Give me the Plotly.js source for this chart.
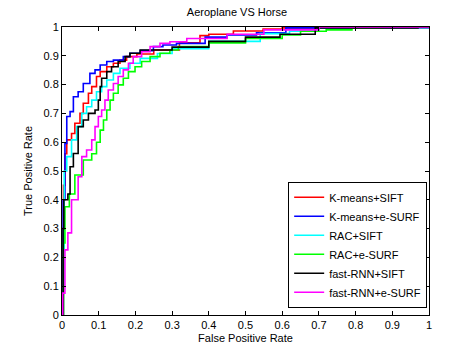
<!DOCTYPE html>
<html><head><meta charset="utf-8">
<script src="https://cdn.plot.ly/plotly-3.0.1.min.js"></script>
<style>html,body{margin:0;padding:0;background:#fff}#chart{width:474px;height:354px}</style>
</head><body><div id="chart"></div>
<script>
const seriesNames = ["K-means+SIFT","K-means+e-SURF","RAC+SIFT","RAC+e-SURF","fast-RNN+SIFT","fast-RNN+e-SURF"];
const seriesColors = ["#ff0000","#0000ff","#00ffff","#00ff00","#000000","#ff00ff"];

const kmSiftX = [0,0.004,0.008,0.013,0.026,0.035,0.049,0.058,0.072,0.081,0.094,0.104,0.122,0.14,0.158,0.176,0.204,0.25,0.32,0.376,0.40,0.467,0.548,0.60,1];
const kmSiftY = [0,0.45,0.56,0.608,0.63,0.666,0.70,0.735,0.77,0.793,0.828,0.845,0.862,0.874,0.885,0.897,0.906,0.92,0.945,0.97,0.975,0.986,0.993,0.997,1];

const kmSurfX = [0,0.003,0.008,0.013,0.022,0.031,0.044,0.058,0.076,0.09,0.104,0.122,0.14,0.167,0.185,0.213,0.249,0.275,0.312,0.39,0.45,0.53,0.61,0.78,1];
const kmSurfY = [0,0.40,0.596,0.689,0.706,0.758,0.775,0.804,0.839,0.851,0.868,0.88,0.885,0.897,0.909,0.918,0.932,0.9375,0.943,0.965,0.972,0.98,0.997,0.998,1];

const racSiftX = [0,0.004,0.006,0.013,0.026,0.04,0.054,0.067,0.081,0.094,0.108,0.122,0.14,0.158,0.185,0.213,0.26,0.30,0.40,0.54,0.62,0.70,1];
const racSiftY = [0,0.10,0.50,0.55,0.608,0.654,0.70,0.723,0.746,0.775,0.793,0.816,0.839,0.857,0.874,0.891,0.908,0.925,0.95,0.977,0.985,0.998,1];

const racSurfX = [0,0.004,0.008,0.02,0.035,0.058,0.081,0.094,0.104,0.113,0.122,0.131,0.14,0.153,0.167,0.181,0.199,0.217,0.24,0.267,0.294,0.317,0.40,0.50,0.60,0.65,0.72,0.79,0.875,1];
const racSurfY = [0,0.25,0.376,0.42,0.486,0.538,0.56,0.60,0.642,0.677,0.712,0.746,0.77,0.799,0.822,0.845,0.862,0.88,0.897,0.909,0.92,0.932,0.945,0.96,0.972,0.985,0.99,0.998,0.999,1];

const rnnSiftX = [0,0.003,0.005,0.016,0.022,0.031,0.044,0.058,0.072,0.09,0.099,0.104,0.108,0.122,0.135,0.153,0.172,0.185,0.213,0.30,0.40,0.50,0.594,0.69,0.97,1];
const rnnSiftY = [0,0.30,0.40,0.42,0.515,0.561,0.654,0.677,0.70,0.712,0.746,0.793,0.822,0.845,0.862,0.88,0.897,0.909,0.92,0.93,0.95,0.965,0.975,0.997,0.999,1];

const rnnSurfX = [0,0.002,0.008,0.016,0.026,0.044,0.054,0.067,0.081,0.09,0.099,0.108,0.117,0.126,0.14,0.153,0.167,0.181,0.194,0.217,0.24,0.267,0.294,0.34,0.45,0.55,0.70,1];
const rnnSurfY = [0,0.076,0.226,0.285,0.40,0.48,0.55,0.573,0.608,0.654,0.689,0.712,0.746,0.781,0.804,0.828,0.851,0.874,0.897,0.914,0.932,0.943,0.949,0.96,0.975,0.99,1,1];

const xs = [kmSiftX,kmSurfX,racSiftX,racSurfX,rnnSiftX,rnnSurfX];
const ys = [kmSiftY,kmSurfY,racSiftY,racSurfY,rnnSiftY,rnnSurfY];

const tickVals = [0,0.1,0.2,0.3,0.4,0.5,0.6,0.7,0.8,0.9,1];
const tickText = ["0","0.1","0.2","0.3","0.4","0.5","0.6","0.7","0.8","0.9","1"];

const traces = seriesNames.map((n,i)=>({
  x: xs[i], y: ys[i], name: n, type:'scatter', mode:'lines',
  line:{color:seriesColors[i], width:1.6, shape:'hv'}
}));

const axisBase = {
  range:[0,1], tickvals:tickVals, ticktext:tickText, ticks:'inside', ticklen:4,
  tickcolor:'#000', showline:true, linecolor:'#000', linewidth:1, mirror:'ticks',
  showgrid:false, zeroline:false, tickfont:{family:'Liberation Sans, Arial, sans-serif', size:11, color:'#000'}
};

const layout = {
  width:474, height:354,
  margin:{l:62, r:45, t:27, b:39},
  paper_bgcolor:'#fff', plot_bgcolor:'#fff',
  font:{family:'Liberation Sans, Arial, sans-serif', size:11, color:'#000'},
  title:{text:'Aeroplane VS Horse', x:0.5, xanchor:'center', y:0.965, yanchor:'middle', font:{size:11}},
  xaxis:Object.assign({}, axisBase, {title:{text:'False Positive Rate', standoff:4, font:{size:11}}}),
  yaxis:Object.assign({}, axisBase, {title:{text:'True Positive Rate', standoff:8, font:{size:11}}}),
  legend:{x:0.995, y:0.025, xanchor:'right', yanchor:'bottom', bordercolor:'#000', borderwidth:1, bgcolor:'#fff',
    font:{size:11}, tracegroupgap:0, itemwidth:30},
  showlegend:true
};
Plotly.newPlot('chart', traces, layout, {staticPlot:true, displayModeBar:false});
</script></body></html>
